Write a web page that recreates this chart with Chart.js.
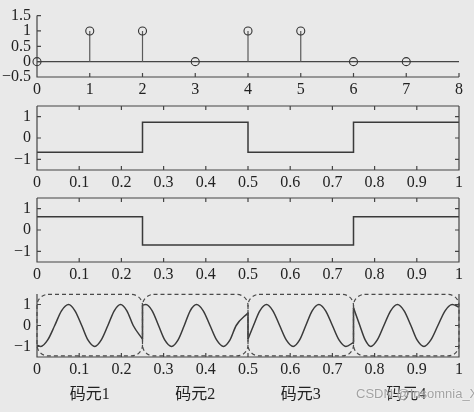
<!DOCTYPE html>
<html>
<head>
<meta charset="utf-8">
<script src="https://cdn.jsdelivr.net/npm/chart.js@4.4.0/dist/chart.umd.min.js"></script>
<style>
html, body { margin: 0; padding: 0; background: #e9e9e9; }
#wrap { position: relative; width: 474px; height: 412px; overflow: hidden; }
#wrap canvas { position: absolute; left: 0; }
#mark { position: absolute; left: 356px; top: 386px; font: 13px "Liberation Sans", sans-serif; color: #a2a2a2; text-shadow: 0 0 2px #fff; white-space: nowrap; }
</style>
</head>
<body>
<div id="wrap">
  <canvas id="c1"></canvas>
  <canvas id="c2"></canvas>
  <canvas id="c3"></canvas>
  <canvas id="c4"></canvas>
  <div id="mark">CSDN @Insomnia_X</div>
</div>
<script>
// panel 1: stem plot of the bit sequence
var stemN = [0, 1, 2, 3, 4, 5, 6, 7];
var stemBits = [0, 1, 1, 0, 1, 1, 0, 0];
var stemXTicks = [0, 1, 2, 3, 4, 5, 6, 7, 8];
var stemYTicks = [-0.5, 0, 0.5, 1, 1.5];

// panels 2 and 3: rectangular waves, one level per symbol
var symbolEdges = [0, 0.25, 0.5, 0.75, 1];
var waveA = [-0.67, 0.74, -0.67, 0.74];
var waveB = [0.62, -0.7, -0.7, 0.62];
var timeTicks = [0, 0.1, 0.2, 0.3, 0.4, 0.5, 0.6, 0.7, 0.8, 0.9, 1];
var levelTicks = [-1, 0, 1];

// panel 4: carrier, one list per symbol
var sym1T = [0, 0.009, 0.025, 0.042, 0.058, 0.075, 0.09, 0.106, 0.121, 0.137, 0.152, 0.168, 0.183, 0.198, 0.213, 0.228, 0.25];
var sym1V = [-0.94, -1, -0.7, 0, 0.7, 1, 0.7, 0, -0.7, -1, -0.7, 0, 0.7, 1, 0.7, 0, -0.65];
var sym2T = [0.25, 0.258, 0.273, 0.288, 0.303, 0.319, 0.334, 0.349, 0.363, 0.378, 0.394, 0.41, 0.426, 0.442, 0.457, 0.472, 0.5];
var sym2V = [0.97, 1, 0.7, 0, -0.7, -1, -0.7, 0, 0.7, 1, 0.7, 0, -0.7, -1, -0.7, 0, 0.6];
var sym3T = [0.5, 0.513, 0.528, 0.544, 0.559, 0.575, 0.591, 0.607, 0.622, 0.637, 0.652, 0.668, 0.684, 0.7, 0.716, 0.732, 0.75];
var sym3V = [-0.65, 0, 0.7, 1, 0.7, 0, -0.7, -1, -0.7, 0, 0.7, 1, 0.7, 0, -0.7, -1, -0.8];
var sym4T = [0.75, 0.765, 0.778, 0.791, 0.806, 0.822, 0.838, 0.854, 0.87, 0.886, 0.901, 0.917, 0.933, 0.95, 0.967, 0.984, 1];
var sym4V = [0.85, 0, -0.7, -1, -0.7, 0, 0.7, 1, 0.7, 0, -0.7, -1, -0.7, 0, 0.7, 1, 0.88];
var boxTop = 1.48;
var boxBottom = -1.45;
var symbolNames = ['码元1', '码元2', '码元3', '码元4'];

var FONT = '"Liberation Serif", "Noto Sans CJK SC", serif';
var INK = '#3a3a3a';
var AXIS = '#454545';

// plot area of every panel inside the 474x412 picture
var panels = [
  { top: 15, bottom: 77, xh: 25 },
  { top: 106, bottom: 170, xh: 25 },
  { top: 198, bottom: 262, xh: 25 },
  { top: 294, bottom: 357, xh: 55 }
];

function fmt(v) {
  var s = String(Math.round(Math.abs(v) * 100) / 100);
  return v < 0 ? '\u2212' + s : s;
}

function pts(xs, ys) {
  return xs.map(function (x, i) { return { x: x, y: ys[i] }; });
}

function stepPts(levels) {
  var out = levels.map(function (v, i) { return { x: symbolEdges[i], y: v }; });
  out.push({ x: symbolEdges[symbolEdges.length - 1], y: levels[levels.length - 1] });
  return out;
}

// axis lines and inward (MATLAB style) tick marks
function frame(top, right) {
  return {
    id: 'frame',
    afterDraw: function (chart) {
      var ctx = chart.ctx, a = chart.chartArea, x = chart.scales.x, y = chart.scales.y;
      ctx.save();
      ctx.strokeStyle = AXIS;
      ctx.lineWidth = 1.2;
      ctx.beginPath();
      ctx.moveTo(a.left, a.top); ctx.lineTo(a.left, a.bottom); ctx.lineTo(a.right, a.bottom);
      if (right) { ctx.lineTo(a.right, a.top); }
      if (top) { ctx.moveTo(a.left, a.top); ctx.lineTo(a.right, a.top); }
      x.ticks.forEach(function (t) {
        var p = x.getPixelForValue(t.value);
        ctx.moveTo(p, a.bottom); ctx.lineTo(p, a.bottom - 4);
        if (top) { ctx.moveTo(p, a.top); ctx.lineTo(p, a.top + 4); }
      });
      y.ticks.forEach(function (t) {
        var p = y.getPixelForValue(t.value);
        ctx.moveTo(a.left, p); ctx.lineTo(a.left + 4, p);
        if (right) { ctx.moveTo(a.right, p); ctx.lineTo(a.right - 4, p); }
      });
      ctx.stroke();
      ctx.restore();
    }
  };
}

function scales(xmin, xmax, xticks, ymin, ymax, yticks, xh) {
  var tickFont = { family: FONT, size: 16 };
  return {
    x: {
      type: 'linear', min: xmin, max: xmax,
      grid: { display: false, drawTicks: false }, border: { display: false },
      afterBuildTicks: function (s) { s.ticks = xticks.map(function (v) { return { value: v }; }); },
      afterFit: function (s) { s.height = xh; },
      ticks: { padding: 3, font: tickFont, color: '#222', maxRotation: 0, autoSkip: false, callback: fmt }
    },
    y: {
      type: 'linear', min: ymin, max: ymax,
      grid: { display: false, drawTicks: false }, border: { display: false },
      afterBuildTicks: function (s) { s.ticks = yticks.map(function (v) { return { value: v }; }); },
      afterFit: function (s) { s.width = 37; },
      ticks: { padding: 6, font: tickFont, color: '#222', autoSkip: false, callback: fmt }
    }
  };
}

function place(id, i) {
  var p = panels[i];
  var pad = Math.min(20, p.top);
  var el = document.getElementById(id);
  el.width = 474;
  el.height = pad + (p.bottom - p.top) + p.xh;
  el.style.top = (p.top - pad) + 'px';
  return { el: el, pad: pad, xh: p.xh };
}

function baseOptions(pl, sc) {
  return {
    responsive: false, animation: false, devicePixelRatio: 1,
    layout: { padding: { top: pl.pad, right: 15, bottom: 0, left: 0 } },
    plugins: { legend: { display: false }, tooltip: { enabled: false } },
    scales: sc
  };
}

// ---- panel 1
var p1 = place('c1', 0);
var stems = [];
stemN.forEach(function (n, i) {
  if (stemBits[i] !== 0) {
    stems.push({ x: n, y: 0 }, { x: n, y: stemBits[i] }, { x: n, y: null });
  }
});
new Chart(p1.el, {
  type: 'scatter',
  data: {
    datasets: [
      { data: pts(stemN, stemBits), showLine: false, pointRadius: 4, pointBorderColor: '#333',
        pointBackgroundColor: 'rgba(0,0,0,0)', pointBorderWidth: 1.1, clip: false },
      { data: stems, showLine: true, spanGaps: false, borderColor: '#5a5a5a', borderWidth: 1.2, pointRadius: 0 },
      { data: [{ x: stemXTicks[0], y: 0 }, { x: stemXTicks[stemXTicks.length - 1], y: 0 }],
        showLine: true, borderColor: AXIS, borderWidth: 1.2, pointRadius: 0 }
    ]
  },
  options: baseOptions(p1, scales(0, 8, stemXTicks, -0.5, 1.5, stemYTicks, p1.xh)),
  plugins: [frame(false, false)]
});

// ---- panels 2 and 3
function squareChart(id, i, levels) {
  var pl = place(id, i);
  new Chart(pl.el, {
    type: 'scatter',
    data: { datasets: [{ data: stepPts(levels), showLine: true, stepped: true, borderColor: INK, borderWidth: 1.5, pointRadius: 0 }] },
    options: baseOptions(pl, scales(0, 1, timeTicks, -1.5, 1.5, levelTicks, pl.xh)),
    plugins: [frame(true, true)]
  });
}
squareChart('c2', 1, waveA);
squareChart('c3', 2, waveB);

// ---- panel 4
var p4 = place('c4', 3);
var symT = [sym1T, sym2T, sym3T, sym4T];
var symV = [sym1V, sym2V, sym3V, sym4V];
var jumps = [];
for (var k = 1; k < symT.length; k++) {
  var prevV = symV[k - 1];
  jumps.push({ x: symT[k][0], y: prevV[prevV.length - 1] }, { x: symT[k][0], y: symV[k][0] }, { x: symT[k][0], y: null });
}
var carrierSets = symT.map(function (t, k) {
  return { data: pts(t, symV[k]), showLine: true, cubicInterpolationMode: 'monotone', borderColor: INK, borderWidth: 1.5, pointRadius: 0 };
});
carrierSets.push({ data: jumps, showLine: true, spanGaps: false, borderColor: INK, borderWidth: 1.5, pointRadius: 0 });

var symbolBoxes = {
  id: 'symbolBoxes',
  afterDraw: function (chart) {
    var ctx = chart.ctx, x = chart.scales.x, y = chart.scales.y, a = chart.chartArea;
    var yt = y.getPixelForValue(boxTop), yb = y.getPixelForValue(boxBottom), r = 11;
    ctx.save();
    ctx.strokeStyle = '#4a4a4a';
    ctx.lineWidth = 1.2;
    ctx.setLineDash([4, 3]);
    for (var i = 0; i < symbolEdges.length - 1; i++) {
      var xl = x.getPixelForValue(symbolEdges[i]), xr = x.getPixelForValue(symbolEdges[i + 1]);
      ctx.beginPath();
      ctx.moveTo(xl + r, yt);
      ctx.arcTo(xr, yt, xr, yb, r);
      ctx.arcTo(xr, yb, xl, yb, r);
      ctx.arcTo(xl, yb, xl, yt, r);
      ctx.arcTo(xl, yt, xr, yt, r);
      ctx.closePath();
      ctx.stroke();
    }
    ctx.setLineDash([]);
    ctx.fillStyle = '#222';
    ctx.font = '16px ' + FONT;
    ctx.textAlign = 'center';
    ctx.textBaseline = 'middle';
    symbolNames.forEach(function (name, i) {
      var c = (symbolEdges[i] + symbolEdges[i + 1]) / 2;
      ctx.fillText(name, x.getPixelForValue(c), a.bottom + 38);
    });
    ctx.restore();
  }
};

new Chart(p4.el, {
  type: 'scatter',
  data: { datasets: carrierSets },
  options: baseOptions(p4, scales(0, 1, timeTicks, -1.5, 1.5, levelTicks, p4.xh)),
  plugins: [frame(false, true), symbolBoxes]
});
</script>
</body>
</html>
